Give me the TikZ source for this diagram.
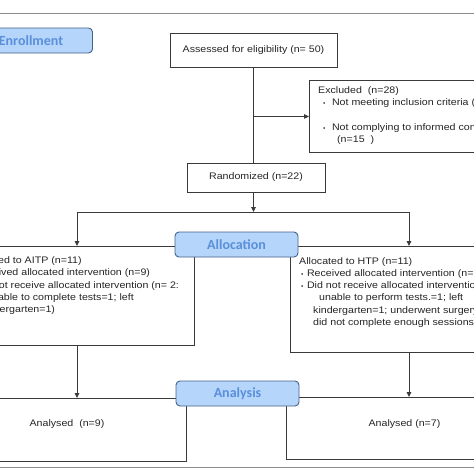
\documentclass[tikz,border=0pt]{standalone}
\usepackage{fontspec}
\setmainfont{Liberation Sans}[FakeStretch=1.12]
\newfontfamily\stagefont{Carlito}
\usepackage{xcolor}
\usetikzlibrary{arrows.meta,positioning}
\definecolor{stagefill}{HTML}{B5D5FB}
\definecolor{stagetext}{HTML}{5A8FDA}
\definecolor{stageedge}{HTML}{44618A}
\definecolor{flowgray}{HTML}{3A3A3A}
\definecolor{rulegray}{HTML}{8C8C8C}

\newcommand{\blt}{{\fontsize{6}{6}\selectfont\textbullet}}

\tikzset{
  flowbox/.style={draw=flowgray, line width=0.9pt, rectangle, inner sep=0pt,
    font=\fontsize{9.5}{12.3}\selectfont, text=black!85},
  flowtext/.style={inner sep=0pt, align=left, anchor=north west,
    font=\fontsize{9.5}{12.3}\selectfont, text=black!85},
  stagebox/.style={draw=stageedge, fill=stagefill, rounded corners=4pt,
    line width=0.9pt, minimum width=123pt, minimum height=25pt, inner sep=0pt,
    font=\stagefont\bfseries\fontsize{14}{14}\selectfont, text=stagetext},
  flowline/.style={draw=flowgray, line width=0.9pt},
  flowarrow/.style={draw=flowgray, line width=0.9pt, -{Triangle[length=5pt,width=4.5pt]}},
}

\begin{document}
\begin{tikzpicture}[x=1pt, y=-1pt]
  \useasboundingbox (0,0) rectangle (474,474);
  \clip (0,0) rectangle (474,474);

  % page rules
  \draw[rulegray, line width=0.8pt] (0,13) -- (474,13);
  \draw[rulegray, line width=0.8pt] (0,467) -- (474,467);

  % Enrollment
  \node[flowbox, minimum width=167pt, minimum height=34pt] (assess) at (253.5,50) {Assessed for eligibility (n= 50)};
  \node[flowbox, anchor=north west, minimum width=200pt, minimum height=72pt] (excl) at (309,80) {};
  \node[flowtext] (excltxt) at (318,86.5) {Excluded\ \ (n=28)\\
    \hspace{5pt}\blt\hspace{6.5pt}Not meeting inclusion criteria (n=13)\\[12.3pt]
    \hspace{5pt}\blt\hspace{6.5pt}Not complying to informed consent\\
    \hspace{19pt}(n=15\ \ )};
  \node[flowbox, minimum width=138pt, minimum height=29pt] (rand) at (256,177.5) {Randomized (n=22)};
  \coordinate (split) at (253.5,212);
  \coordinate (splitL) at (77,212);
  \coordinate (splitR) at (409,212);

  % Allocation
  \node[flowbox, anchor=north east, minimum width=255pt, minimum height=99pt] (aitp) at (195,246) {};
  \node[flowtext] (aitptxt) at (-34,256.5) {Allocated to AITP (n=11)\\
    \hspace{2pt}\blt\hspace{3.5pt}Received allocated intervention (n=9)\\
    \hspace{2pt}\blt\hspace{3.5pt}Did not receive allocated intervention (n= 2:\\
    \hspace{20pt}unable to complete tests=1; left\\
    \hspace{14pt}kindergarten=1)};
  \node[flowbox, anchor=north west, minimum width=250pt, minimum height=106pt] (htp) at (290,246) {};
  \node[flowtext] (htptxt) at (299,257) {Allocated to HTP (n=11)\\
    \hspace{2pt}\blt\hspace{3.5pt}Received allocated intervention (n=7)\\
    \hspace{2pt}\blt\hspace{3.5pt}Did not receive allocated intervention (n= 4:\\
    \hspace{20pt}unable to perform tests.=1; left\\
    \hspace{14pt}kindergarten=1; underwent surgery=1;\\
    \hspace{14pt}did not complete enough sessions=1)};

  % Analysis
  \node[flowbox, anchor=north east, minimum width=250pt, minimum height=63pt] (anaL) at (187,398) {};
  \node[flowbox, anchor=north west, minimum width=250pt, minimum height=62pt] (anaR) at (286,397) {};
  \node[flowtext, anchor=center] (anaLtxt) at (67,424.5) {Analysed\ \ (n=9)};
  \node[flowtext, anchor=center] (anaRtxt) at (404.5,424.5) {Analysed (n=7)};

  % connectors
  \draw[flowline] (assess.south) -- (assess.south |- rand.north);
  \draw[flowarrow] (assess.south |- excl.west) -- (excl.west);
  \draw[flowarrow] (assess.south |- rand.south) -- (split);
  \draw[flowline] (splitL) -- (splitR);
  \draw[flowarrow] (splitL) -- (splitL |- aitp.north);
  \draw[flowarrow] (splitR) -- (splitR |- htp.north);
  \draw[flowarrow] (splitL |- aitp.south) -- (splitL |- anaL.north);
  \draw[flowarrow] (splitR |- htp.south) -- (splitR |- anaR.north);

  % stage labels
  \node[stagebox] (enroll) at (31,40.5) {Enrollment};
  \node[stagebox] (alloc) at (236.5,244.5) {Allocation};
  \node[stagebox] (analysis) at (237.5,393.5) {Analysis};
\end{tikzpicture}
\end{document}
